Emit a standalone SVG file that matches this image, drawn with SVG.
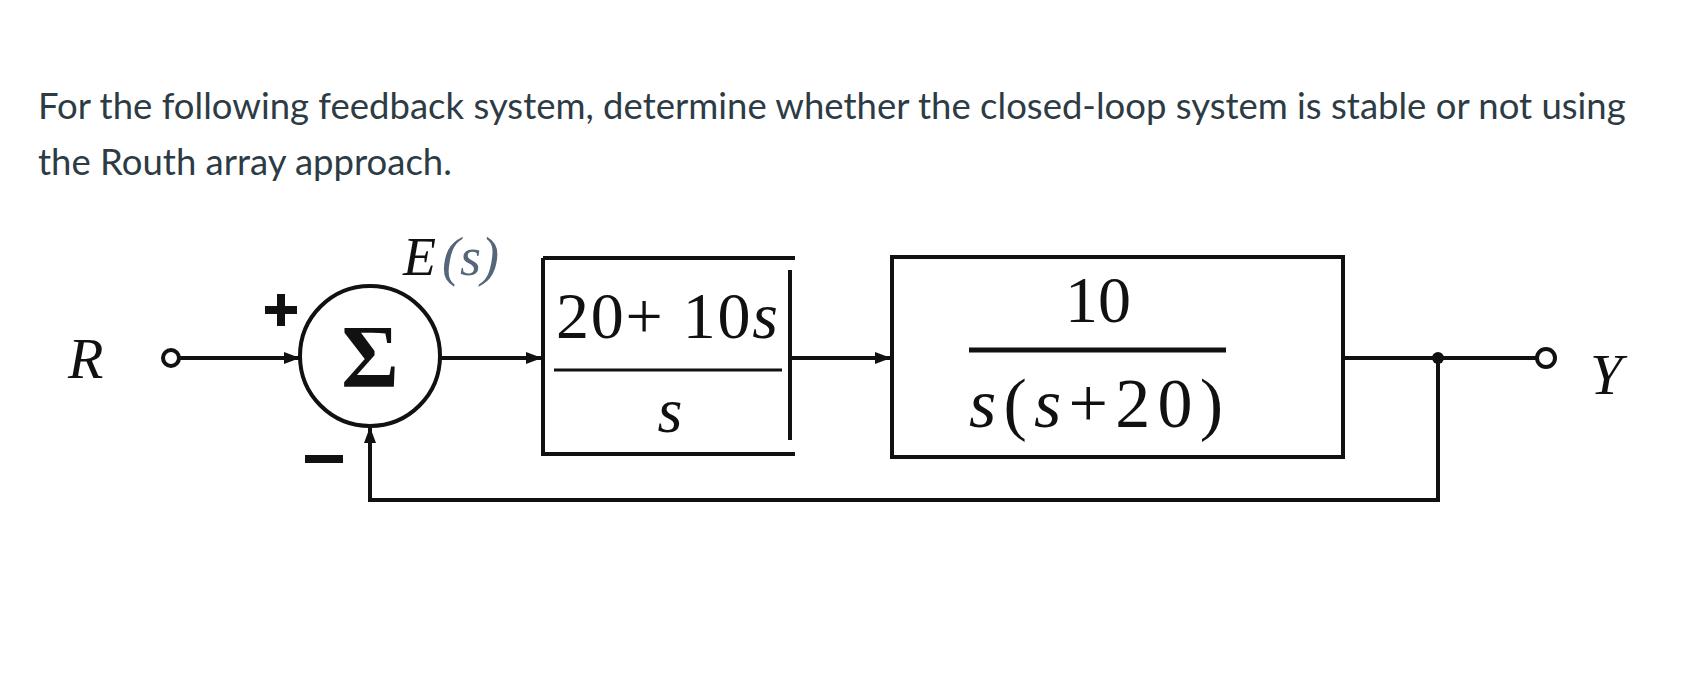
<svg xmlns="http://www.w3.org/2000/svg" width="1687" height="697" viewBox="0 0 1687 697">
<style>
.q{font-family:Lato,"Open Sans",sans-serif;font-size:36.5px;fill:#2d3b45}
.m{font-family:"Liberation Serif",serif;fill:#111}
.ln{stroke:#111;stroke-width:4;fill:none}
</style>
<defs><marker id="a" markerWidth="16" markerHeight="14" refX="15" refY="7" orient="auto" markerUnits="userSpaceOnUse"><path d="M0,1 L16,7 L0,13 Z" fill="#111"/></marker></defs>
<rect width="1687" height="697" fill="#fff"/>
<text class="q" x="38" y="119">For the following feedback system, determine whether the closed-loop system is stable or not using</text>
<text class="q" x="38" y="175">the Routh array approach.</text>
<g id="labels">
<text class="m" x="68" y="378" font-size="58" font-style="italic">R</text>
<text class="m" x="1590" y="394" font-size="58" font-style="italic">Y</text>
<text class="m" x="403" y="275" font-size="54" font-style="italic">E<tspan fill="#55657a" dx="6">(s)</tspan></text>
<path d="M265,310 H297 M281,294 V326" stroke="#111" stroke-width="8"/>
<rect x="305" y="455" width="38" height="8" fill="#111"/>
</g>
<g id="sum"><circle cx="370" cy="356" r="70" class="ln"/><text class="m" x="370" y="386" font-size="88" font-weight="bold" text-anchor="middle">Σ</text></g>
<g id="block1">
<path class="ln" d="M543,258 H795 M543,258 V454 H795 M790,270 V440"/>
<line x1="554" y1="370" x2="782" y2="370" stroke="#111" stroke-width="3"/>
<text class="m" x="667" y="338" font-size="66" text-anchor="middle" textLength="222">20+ 10<tspan font-style="italic">s</tspan></text>
<text class="m" x="670" y="432" font-size="64" font-style="italic" text-anchor="middle">s</text>
</g>
<g id="block2">
<rect x="892" y="257" width="451" height="200" class="ln"/>
<line x1="969" y1="350" x2="1226" y2="350" stroke="#111" stroke-width="5"/>
<text class="m" x="1098" y="322" font-size="66" text-anchor="middle">10</text>
<text class="m" x="1096" y="427" font-size="70" text-anchor="middle" textLength="254"><tspan font-style="italic">s</tspan>(<tspan font-style="italic">s</tspan>+20)</text>
</g>
<g id="connectors">
<circle cx="171" cy="358" r="8" class="ln" stroke-width="3"/>
<line x1="179" y1="358" x2="299" y2="358" class="ln" stroke-width="3" marker-end="url(#a)"/>
<line x1="440" y1="358" x2="541" y2="358" class="ln" stroke-width="3" marker-end="url(#a)"/>
<line x1="792" y1="358" x2="890" y2="358" class="ln" stroke-width="3" marker-end="url(#a)"/>
<line x1="1343" y1="358" x2="1538" y2="358" class="ln" stroke-width="3"/>
<circle cx="1438" cy="358" r="6" fill="#111"/>
<circle cx="1546" cy="358" r="9" class="ln" stroke-width="3"/>
<path class="ln" d="M1438,358 V500 H370 V428" marker-end="url(#a)"/>
</g>
</svg>
